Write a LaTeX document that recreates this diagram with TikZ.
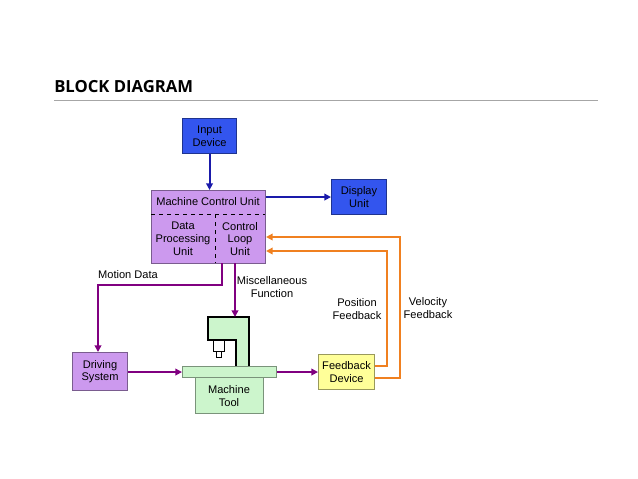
\documentclass[tikz,border=0pt]{standalone}
\usepackage{fontspec}
\setmainfont{Liberation Sans}
\newfontfamily\titlefont{Open Sans}
\usetikzlibrary{arrows.meta}
\definecolor{bfill}{HTML}{3355EE}
\definecolor{bline}{HTML}{1A1A80}
\definecolor{pfill}{HTML}{CC99EE}
\definecolor{gfill}{HTML}{CCF5CC}
\definecolor{yfill}{HTML}{FFFF99}
\definecolor{barrow}{HTML}{1A1AAA}
\definecolor{parrow}{HTML}{800080}
\definecolor{oarrow}{HTML}{F08020}
\begin{document}
\begin{tikzpicture}[x=0.75pt,y=-0.75pt,
  txt/.style={font=\fontsize{8.3}{9.6}\selectfont,align=center,inner sep=0pt},
  box/.style={draw=#1!60!black,line width=0.8pt,anchor=north west,inner sep=0pt,txt},
  ar/.style={line width=1.5pt,-{Triangle[length=5pt,width=5pt]}},
  ln/.style={line width=1.5pt}]
\useasboundingbox (0,0) rectangle (638,478);
\node[anchor=base west,inner sep=0pt,font=\titlefont\bfseries\fontsize{12.5}{14}\selectfont] (title) at (54,93) {BLOCK DIAGRAM};
\draw[gray!70,line width=0.6pt] (54,100) coordinate (l1) -- (598,100) coordinate (l2);
% blocks
\node[box=bfill,fill=bfill,minimum width=54*0.75pt,minimum height=35*0.75pt] (in) at (182,118) {Input\\Device};
\node[box=bfill,fill=bfill,minimum width=55*0.75pt,minimum height=35*0.75pt] (disp) at (331,179) {Display\\Unit};
\node[box=pfill,fill=pfill,minimum width=114*0.75pt,minimum height=73*0.75pt] (mcu) at (151,190) {};
\node[txt] (mcut) at (208,202) {Machine Control Unit};
\draw[dashed,line width=0.6pt] (151,214) coordinate (d1) -- (265,214) coordinate (d2);
\draw[dashed,line width=0.6pt] (215,214) coordinate (d3) -- (215,263) coordinate (d4);
\node[txt] (dpu) at (183,239) {Data\\Processing\\Unit};
\node[txt] (clu) at (240,239) {Control\\Loop\\Unit};
\node[box=pfill,fill=pfill,minimum width=55*0.75pt,minimum height=38*0.75pt] (drv) at (72,352) {Driving\\System};
\node[box=yfill,fill=yfill,minimum width=56*0.75pt,minimum height=35*0.75pt] (fb) at (318,354) {Feedback\\Device};
% machine tool
\draw[fill=gfill,line width=0.8pt] (208,317) coordinate (c1) -- (249,317) -- (249,367) -- (236,367) -- (236,340) -- (208,340) -- cycle;
\draw[fill=white,line width=0.6pt] (213,340) rectangle (224,351);
\draw[fill=white,line width=0.6pt] (216,351) rectangle (221,357);
\node[box=gfill,fill=gfill,minimum width=68*0.75pt,minimum height=36*0.75pt] (base) at (195,377) {};
\node[txt] (mt) at (229,396) {Machine\\Tool};
\node[box=gfill,fill=gfill,minimum width=94*0.75pt,minimum height=11*0.75pt] (tab) at (182,366) {};
% arrows
\draw[ar,barrow] (in.south) -- (mcu.north-|in.south);
\draw[ar,barrow] (mcu.east|-disp.west) -- (disp.west);
\draw[ar,parrow] (222,263) coordinate (m0) -- (222,285) -- (98,285) -- (drv.north-|98,0);
\draw[ar,parrow] (235,263) coordinate (m1) -- (c1-|235,0);
\draw[ar,parrow] (drv.east|-tab.west) -- (tab.west);
\draw[ar,parrow] (tab.east) -- (fb.west|-tab.east);
\draw[ar,oarrow] (fb.east|-0,366) -- (387,366) -- (387,251) -- (mcu.east|-0,251);
\draw[ar,oarrow] (fb.east|-0,378) -- (400,378) -- (400,237) -- (mcu.east|-0,237);
% labels
\node[txt] (lmd) at (128,275) {Motion Data};
\node[txt] (lmf) at (272,287) {Miscellaneous\\Function};
\node[txt] (lpf) at (357,309) {Position\\Feedback};
\node[txt] (lvf) at (428,308) {Velocity\\Feedback};
\end{tikzpicture}
\end{document}
